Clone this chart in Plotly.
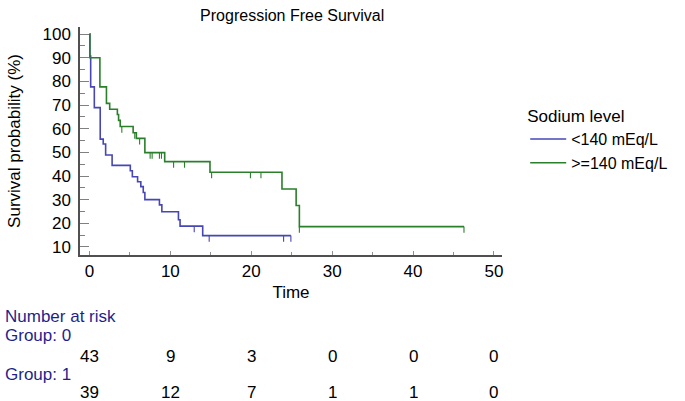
import plotly.graph_objects as go
import numpy as np

# ---- data ----
# Group 0: Sodium < 140 mEq/L  (step times and survival % after each step)
low_times = [0, 0.05, 0.15, 0.6, 1.33, 1.7, 2.0, 2.8, 5.05, 5.3, 5.95, 6.35, 6.65, 6.85,
             8.65, 8.95, 11.0, 11.2, 14.0, 24.9]
low_surv = [100, 90.7, 77.7, 68.9, 55.6, 53.5, 48.9, 44.5, 42.2, 39.7, 37.6, 35.5, 33.0, 30.0,
            27.8, 24.9, 21.5, 18.8, 14.8, 14.8]
low_censor = [12.95, 14.8, 24.0, 24.9]

# Group 1: Sodium >= 140 mEq/L
high_times = [0, 0.05, 1.29, 2.1, 2.5, 3.45, 3.6, 3.8, 5.4, 5.8, 6.85, 9.3, 14.9,
              23.8, 25.55, 25.95, 46.3]
high_surv = [100, 90.0, 77.7, 70.7, 68.2, 66.0, 63.5, 60.9, 58.3, 55.9, 49.9, 46.1, 41.6,
             34.5, 27.5, 18.6, 18.6]
high_censor = [4.0, 5.6, 6.2, 7.5, 7.75, 8.65, 8.9, 10.4, 11.75, 15.1, 19.9, 21.2, 25.95, 46.3]

group_names = ["<140 mEq/L", ">=140 mEq/L"]
risk_times = [0, 10, 20, 30, 40, 50]
risk_low = [43, 9, 3, 0, 0, 0]
risk_high = [39, 12, 7, 1, 1, 0]

BLUE = "#4646b6"
GREEN = "#2a7f2a"
NAVY = "#1f1f8c"
FONT = "Liberation Sans, Arial, sans-serif"


def step_value(times, surv, t):
    idx = np.searchsorted(np.asarray(times), t, side="right") - 1
    return surv[max(idx, 0)]


fig = go.Figure()

for times, surv, cens, name, col in [
    (low_times, low_surv, low_censor, group_names[0], BLUE),
    (high_times, high_surv, high_censor, group_names[1], GREEN),
]:
    fig.add_trace(go.Scatter(
        x=times, y=surv, mode="lines", line=dict(shape="hv", color=col, width=1.6),
        name=name, hoverinfo="skip"))
    cy = [step_value(times, surv, t) for t in cens]
    fig.add_trace(go.Scatter(
        x=cens, y=cy, mode="markers", marker=dict(size=0.1, color=col, opacity=0),
        error_y=dict(type="data", symmetric=False, array=[0] * len(cens),
                     arrayminus=[2.6] * len(cens), width=0, thickness=1.1, color=col),
        showlegend=False, hoverinfo="skip"))

# number-at-risk table
LEFT = -0.1835
ann = []
for txt, yy in [("Number at risk", -0.268), ("Group: 0", -0.355), ("Group: 1", -0.522)]:
    ann.append(dict(text=txt, x=LEFT, y=yy, xref="paper", yref="paper",
                    xanchor="left", yanchor="middle", showarrow=False,
                    font=dict(size=17, color=NAVY, family=FONT)))
for t, n in zip(risk_times, risk_low):
    ann.append(dict(text=str(n), x=t, y=-0.443, xref="x", yref="paper",
                    xanchor="center", yanchor="middle", showarrow=False,
                    font=dict(size=17, color="black", family=FONT)))
for t, n in zip(risk_times, risk_high):
    ann.append(dict(text=str(n), x=t, y=-0.605, xref="x", yref="paper",
                    xanchor="center", yanchor="middle", showarrow=False,
                    font=dict(size=17, color="black", family=FONT)))

fig.update_layout(
    width=685, height=401,
    margin=dict(l=80, r=180, t=27, b=146),
    paper_bgcolor="white", plot_bgcolor="white",
    font=dict(family=FONT, color="black", size=16),
    title=dict(text="Progression Free Survival", x=0.4265, xanchor="center",
               y=0.975, yanchor="top", font=dict(size=16, color="black")),
    annotations=ann,
    legend=dict(title=dict(text="Sodium level", font=dict(size=17)),
                x=1.055, xanchor="left", y=0.68, yanchor="top",
                font=dict(size=16), bgcolor="rgba(0,0,0,0)", itemwidth=36,
                tracegroupgap=0),
    showlegend=True,
)

fig.update_xaxes(
    range=[-1.17, 51], showgrid=False, zeroline=False,
    showline=True, linecolor="#505050", linewidth=1.5,
    tickmode="array", tickvals=risk_times, ticks="inside", ticklen=4, tickcolor="#909090",
    tickfont=dict(size=17),
    minor=dict(tickvals=[5, 15, 25, 35, 45], ticks="inside", ticklen=3, tickcolor="#909090"),
    title=dict(text="Time", font=dict(size=17), standoff=6),
)
fig.update_yaxes(
    range=[6.6, 103], showgrid=False, zeroline=False,
    showline=True, linecolor="#505050", linewidth=1.5,
    tickmode="array", tickvals=[10, 20, 30, 40, 50, 60, 70, 80, 90, 100],
    ticks="inside", ticklen=9, tickcolor="#808080", tickfont=dict(size=17),
    ticklabelstandoff=4,
    minor=dict(tickvals=[15, 25, 35, 45, 55, 65, 75, 85, 95], ticks="inside",
               ticklen=5, tickcolor="#808080"),
    title=dict(text="Survival probability (%)", font=dict(size=17), standoff=18),
)

fig.write_html("out.html", config={"displayModeBar": False},
               post_script="document.body.style.margin='0';document.body.style.padding='0';")
